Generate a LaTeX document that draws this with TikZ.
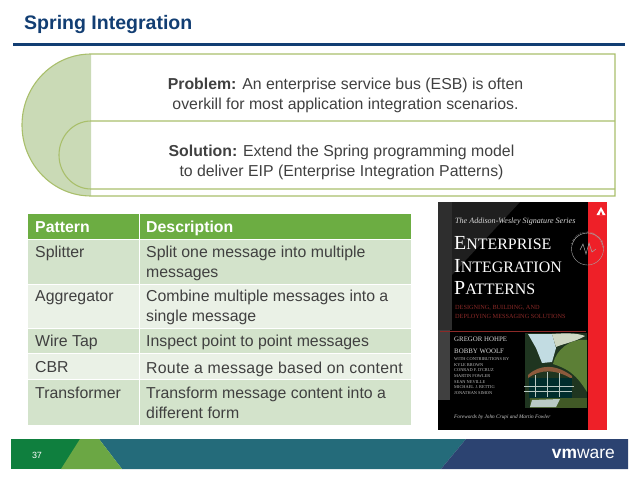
\documentclass[tikz,border=0pt]{standalone}
\usepackage{fontspec}
\setmainfont{Liberation Sans}
\newfontfamily\bookfont{Liberation Serif}
\usetikzlibrary{decorations.text}
\definecolor{titleblue}{HTML}{123E73}
\definecolor{textgray}{HTML}{404040}
\definecolor{shapeline}{HTML}{A9BF6B}
\definecolor{shapefill}{HTML}{CADAB6}
\definecolor{headgreen}{HTML}{6CAD42}
\definecolor{rowdark}{HTML}{D3E3CB}
\definecolor{rowlight}{HTML}{EAF1E6}
\definecolor{footgreen}{HTML}{0F7F3E}
\definecolor{footlime}{HTML}{6BA744}
\definecolor{footteal}{HTML}{246B7A}
\definecolor{footblue}{HTML}{2C4371}
\definecolor{bookred}{HTML}{EE2028}
\definecolor{subred}{HTML}{8C2A28}
\definecolor{leafdark}{HTML}{1F3520}
\definecolor{leafmid}{HTML}{5C7F36}
\definecolor{skylight}{HTML}{C2DCE2}
\definecolor{archbrown}{HTML}{8C5A3C}
\definecolor{gridlight}{HTML}{B9C9C4}
\tikzset{
  callout/.style={font=\fontsize{15.9}{20}\selectfont,text=textgray,align=center,inner sep=0pt},
  headtext/.style={anchor=base west,inner sep=0pt,text=white,font=\fontsize{15.9}{18}\selectfont\bfseries},
  celltext/.style={anchor=north west,inner sep=0pt,align=left,text=textgray,font=\fontsize{15.9}{19.5}\selectfont},
  covercap/.style={anchor=west,inner sep=0pt,text=white,font=\bookfont},
  covertiny/.style={anchor=west,inner sep=0pt,text=white!75!black,font=\bookfont\fontsize{4.4}{5.6}\selectfont,align=left}
}
\newcommand{\capword}[2]{{\fontsize{20}{20}\selectfont #1}{\fontsize{16}{20}\selectfont #2}}
\begin{document}
\begin{tikzpicture}
\useasboundingbox (0bp,0bp) rectangle (638bp,-478bp);
\node (title) at (24bp,-29bp)[anchor=base west,inner sep=0pt,text=titleblue,font=\fontsize{19.6}{20}\selectfont\bfseries] {Spring Integration};
\fill [titleblue] (13bp,-43bp) rectangle (625bp,-46bp);

\fill [shapefill] (91bp,-54bp) arc (90:270:69bp and 71bp) -- cycle;
\draw [shapeline,line width=1.1pt] (615bp,-54bp) -- (91bp,-54bp) arc (90:270:69bp and 71bp) -- (615bp,-196bp) -- cycle;
\draw [shapeline,line width=1.1pt] (615bp,-121bp) -- (91bp,-121bp) arc (90:270:32bp and 34bp) -- (615bp,-189bp);
\node (problem) at (345.5bp,-95bp)[callout] {\textbf{Problem:} An enterprise service bus (ESB) is often\\overkill for most application integration scenarios.};
\node (solution) at (341.5bp,-162bp)[callout] {\textbf{Solution:} Extend the Spring programming model\\to deliver EIP (Enterprise Integration Patterns)};

\fill [headgreen] (28bp,-214bp) rectangle (139bp,-239bp);
\fill [headgreen] (140bp,-214bp) rectangle (411bp,-239bp);
\fill [rowdark] (28bp,-240bp) rectangle (139bp,-284bp);
\fill [rowdark] (140bp,-240bp) rectangle (411bp,-284bp);
\fill [rowlight] (28bp,-285bp) rectangle (139bp,-328bp);
\fill [rowlight] (140bp,-285bp) rectangle (411bp,-328bp);
\fill [rowdark] (28bp,-329bp) rectangle (139bp,-353bp);
\fill [rowdark] (140bp,-329bp) rectangle (411bp,-353bp);
\fill [rowlight] (28bp,-354bp) rectangle (139bp,-379bp);
\fill [rowlight] (140bp,-354bp) rectangle (411bp,-379bp);
\fill [rowdark] (28bp,-380bp) rectangle (139bp,-425bp);
\fill [rowdark] (140bp,-380bp) rectangle (411bp,-425bp);
\node (pattern) at (35bp,-232bp)[headtext] {Pattern};
\node (description) at (146bp,-232bp)[headtext] {Description};
\node (splitter) at (35bp,-246bp)[celltext] {Splitter};
\node (splitdesc) at (146bp,-246bp)[celltext] {Split one message into multiple\\messages};
\node (aggregator) at (35bp,-290bp)[celltext] {Aggregator};
\node (aggdesc) at (146bp,-290bp)[celltext] {Combine multiple messages into a\\single message};
\node (wiretap) at (35bp,-335bp)[celltext] {Wire Tap};
\node (wiredesc) at (146bp,-335bp)[celltext] {Inspect point to point messages};
\node (cbr) at (35bp,-361.5bp)[celltext] {CBR};
\node (cbrdesc) at (146bp,-361.5bp)[celltext] {\addfontfeature{LetterSpace=1.6}Route a message based on content};
\node (transformer) at (35bp,-387bp)[celltext] {Transformer};
\node (transdesc) at (146bp,-387bp)[celltext] {Transform message content into a\\different form};

\fill [black] (438bp,-202bp) rectangle (588bp,-430bp);
\fill [bookred] (588bp,-202bp) rectangle (607bp,-430bp);
\fill [black!82] (438bp,-202bp) rectangle (452bp,-330bp);
\fill [black!88] (452bp,-202bp) -- (520bp,-202bp) -- (452bp,-275bp) -- cycle;
\fill [black!75] (438bp,-330bp) rectangle (450bp,-400bp);
\fill [white] (601bp,-207bp) -- (605.5bp,-215bp) -- (596.5bp,-215bp) -- cycle;
\fill [bookred] (601bp,-211bp) -- (602.5bp,-215bp) -- (599.5bp,-215bp) -- cycle;
\node (series) at (455bp,-222bp)[anchor=west,inner sep=0pt,text=white!85!black,font=\bookfont\itshape\fontsize{8.1}{9}\selectfont] {The Addison-Wesley Signature Series};
\node (cover1) at (454bp,-243bp)[covercap] {\capword{E}{NTERPRISE}};
\node (cover2) at (454bp,-266bp)[covercap] {\capword{I}{NTEGRATION}};
\node (cover3) at (454bp,-288bp)[covercap] {\capword{P}{ATTERNS}};
\node (subtitle) at (455bp,-312bp)[anchor=west,inner sep=0pt,align=left,text=subred,font=\bookfont\fontsize{6.3}{9.5}\selectfont] {DESIGNING, BUILDING, AND\\DEPLOYING MESSAGING SOLUTIONS};
\draw [subred,line width=0.4pt] (440bp,-331bp) -- (586bp,-331bp);
\node (authors) at (454bp,-345.5bp)[anchor=west,inner sep=0pt,align=left,text=white!85!black,font=\bookfont\fontsize{6.9}{12}\selectfont] {GREGOR HOHPE\\BOBBY WOOLF};
\node (contrib) at (454bp,-376bp)[covertiny] {WITH CONTRIBUTIONS BY\\KYLE BROWN\\CONRAD F. D'CRUZ\\MARTIN FOWLER\\SEAN NEVILLE\\MICHAEL J. RETTIG\\JONATHAN SIMON};

\fill [leafdark] (525bp,-333bp) rectangle (587bp,-408bp);
\fill [skylight] (528bp,-334bp) -- (552bp,-334bp) -- (556bp,-348bp) -- (552bp,-362bp) -- (542bp,-363bp) -- (536bp,-348bp) -- cycle;
\fill [leafmid] (587bp,-340bp) .. controls (570bp,-338bp) and (556bp,-350bp) .. (553bp,-364bp) .. controls (565bp,-368bp) and (575bp,-372bp) .. (587bp,-392bp) -- cycle;
\fill [white!70!leafmid] (552bp,-334bp) .. controls (565bp,-333bp) and (578bp,-333bp) .. (585bp,-336bp) .. controls (575bp,-342bp) and (562bp,-344bp) .. (556bp,-347bp) -- cycle;
\fill [archbrown] (528bp,-375bp) .. controls (540bp,-364bp) and (556bp,-364bp) .. (572bp,-376bp) -- (572bp,-379bp) .. controls (556bp,-369bp) and (540bp,-369bp) .. (528bp,-378bp) -- cycle;
\fill [black!65!teal] (529bp,-378bp) rectangle (572bp,-398bp);
\draw [gridlight,line width=0.7pt] (524bp,-386bp) -- (574bp,-386bp) (524bp,-391bp) -- (572bp,-391bp) (535bp,-375bp) -- (535bp,-397bp) (547bp,-372bp) -- (547bp,-397bp) (559bp,-373bp) -- (559bp,-397bp);
\fill [black!30!leafmid] (530bp,-398bp) rectangle (587bp,-408bp);
\fill [gridlight] (532bp,-400bp) -- (560bp,-399bp) -- (556bp,-407bp) -- (530bp,-407bp) -- cycle;

\node (foreword) at (454bp,-417bp)[anchor=west,inner sep=0pt,text=white!80!black,font=\bookfont\itshape\fontsize{5.3}{7}\selectfont] {Forewords by John Crupi and Martin Fowler};

\draw [black!35,line width=0.4pt] (587.5bp,-249bp) circle (16bp);
\draw [black!35,line width=0.5pt] (580bp,-250bp) -- (583bp,-244bp) -- (586bp,-254bp) -- (589bp,-243bp) -- (592bp,-252bp) -- (596bp,-249bp);
\path [decorate,decoration={text along path,text={|\bookfont\fontsize{3.2}{4}\selectfont\color{white!65!black}|A Martin Fowler Signature Book},text align=center}] (574bp,-256bp) arc (208:-40:15bp);

\fill [footgreen] (11bp,-439bp) rectangle (80bp,-469bp);
\fill [footteal] (99bp,-439bp) -- (466bp,-439bp) -- (441bp,-469bp) -- (122bp,-469bp) -- cycle;
\fill [footlime] (80bp,-439bp) -- (99bp,-439bp) -- (122bp,-469bp) -- (61bp,-469bp) -- cycle;
\fill [footblue] (466bp,-439bp) -- (628bp,-439bp) -- (628bp,-469bp) -- (441bp,-469bp) -- cycle;
\node (pagenum) at (37bp,-455bp)[inner sep=0pt,text=white,font=\fontsize{9}{10}\selectfont] {37};
\node (vmware) at (615bp,-454bp)[anchor=east,inner sep=0pt,text=white,font=\fontsize{17.5}{18}\selectfont] {\textbf{vm}ware};
\end{tikzpicture}
\end{document}
